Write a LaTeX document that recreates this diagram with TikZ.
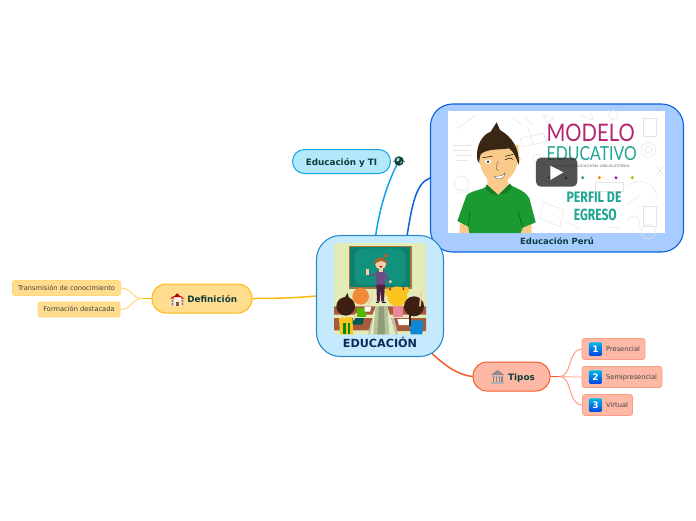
\documentclass[tikz,border=0pt]{standalone}
\usepackage{fontspec}
\setmainfont{DejaVu Sans}
\newfontfamily\latofont{Lato}
\newfontfamily\firafont{Fira Sans}
\usetikzlibrary{backgrounds,shapes.geometric}
\definecolor{inktext}{HTML}{0C3D3C}
\definecolor{navytext}{HTML}{0C2A5A}
\definecolor{cenfill}{HTML}{C5E9FD}\definecolor{cenline}{HTML}{2D8CCF}
\definecolor{perfill}{HTML}{A8CCFF}\definecolor{perline}{HTML}{0A60E0}
\definecolor{tifill}{HTML}{B3E8FB}\definecolor{tiline}{HTML}{0EA5E8}
\definecolor{deffill}{HTML}{FFDC8E}\definecolor{defline}{HTML}{FFB80E}\definecolor{defsub}{HTML}{FFD67A}
\definecolor{tipfill}{HTML}{FDB9A6}\definecolor{tipline}{HTML}{F85A2A}\definecolor{tipsub}{HTML}{FB9E85}
\definecolor{tealx}{HTML}{1FA593}\definecolor{magx}{HTML}{B5256F}
\definecolor{skinx}{HTML}{F9CA8A}\definecolor{greenx}{HTML}{1A9A30}\definecolor{doodle}{HTML}{E4E4E4}
\definecolor{wallc}{HTML}{E3EBB9}\definecolor{framec}{HTML}{A57B3D}\definecolor{boardc}{HTML}{0D7F6E}\definecolor{boardin}{HTML}{12917D}
\definecolor{deskc}{HTML}{A85B3A}\definecolor{aislec}{HTML}{B5C198}\definecolor{aislein}{HTML}{8E9C78}
\definecolor{skinl}{HTML}{F6CFA8}\definecolor{hairt}{HTML}{A5622F}\definecolor{shirtt}{HTML}{6E4C86}\definecolor{pantst}{HTML}{4D2040}
\definecolor{hairk}{HTML}{3E2012}\definecolor{hairo}{HTML}{F08B3A}\definecolor{hairy}{HTML}{FCC41F}
\tikzset{
  topic/.style={draw,line width=1pt,rounded corners=12pt,inner sep=0pt,text height=7.8pt,text depth=0pt,font=\fontsize{8.8}{10}\selectfont\bfseries,text=inktext},
  sub/.style={draw,line width=.8pt,rounded corners=2.5pt,inner sep=0pt},
  subtxt/.style={inner sep=0pt,text height=5pt,text depth=.4pt,font=\fontsize{6.65}{8}\selectfont,text=black!75},
  link/.style={line width=1.5pt,line cap=round},
  twig/.style={line width=1pt,line cap=round},
  badge/.style={rounded corners=1.5pt,minimum width=13.5pt,minimum height=13.5pt,inner sep=0pt,top color=blue!20!cyan!90!black,bottom color=blue!70!cyan!90!black,text=white,font=\fontsize{9}{10}\selectfont\bfseries},
}
\begin{document}
\begin{tikzpicture}[x=1pt,y=-1pt]
\useasboundingbox (0,0) rectangle (696,520);

% main nodes
\node[draw=perline,fill=perfill,line width=1.1pt,rounded corners=22pt,minimum width=253pt,minimum height=148pt,inner sep=0pt] (peru) at (557,178) {};
\node[draw=cenline,fill=cenfill,line width=1.1pt,rounded corners=24pt,minimum width=127pt,minimum height=121pt,inner sep=0pt] (central) at (380,296) {};
\node[topic,draw=tiline,fill=tifill,minimum width=98pt,minimum height=24pt] (ti) at (341.5,161.5) {Educación y TI};
\node[topic,draw=defline,fill=deffill,minimum width=100pt,minimum height=29pt,rounded corners=14pt] (def) at (202,298.5) {\hspace*{20.5pt}Definición};
\node[topic,draw=tipline,fill=tipfill,minimum width=77pt,minimum height=29pt,rounded corners=14pt] (tip) at (511.5,376.5) {\hspace*{20pt}Tipos};

% sub nodes
\node[sub,subtxt,draw=defsub,fill=deffill,minimum width=108pt,minimum height=15pt] (tc) at (66.5,288) {Transmisión de conocimiento};
\node[sub,subtxt,draw=defsub,fill=deffill,minimum width=82pt,minimum height=15pt] (fd) at (79,309.5) {Formación destacada};
\node[sub,draw=tipsub,fill=tipfill,minimum width=63pt,minimum height=21pt] (pr) at (613.5,349) {};
\node[sub,draw=tipsub,fill=tipfill,minimum width=80pt,minimum height=21pt] (se) at (622,377) {};
\node[sub,draw=tipsub,fill=tipfill,minimum width=50pt,minimum height=21pt] (vi) at (607.5,405) {};
\node[badge] (b1) at (595.5,349) {1};
\node[badge] (b2) at (595.5,377) {2};
\node[badge] (b3) at (595.5,405) {3};
\node[subtxt,anchor=west] (prt) at (606,349) {Presencial};
\node[subtxt,anchor=west] (set) at (606,377) {Semipresencial};
\node[subtxt,anchor=west] (vit) at (606,405) {Virtual};

% captions
\node[inner sep=0pt,font=\fontsize{8.5}{10}\selectfont\bfseries,text=inktext] (perucap) at (557,241) {Educación Perú};
\node[inner sep=0pt,font=\fontsize{11.2}{13}\selectfont\bfseries,text=navytext] (cencap) at (380,342.2) {EDUCACIÓN};

% globe
\node[circle,fill=inktext,minimum size=9.5pt,inner sep=0pt] (globe) at (399,161) {};
\fill[teal!35!white] (396.6,158.6) -- (399,157.6) -- (399.6,159.8) -- (398.2,161.6) -- (396.4,160.8) -- cycle;
\fill[teal!35!white] (400.6,161.8) -- (402,160.8) -- (401.4,163) -- (400.2,163.8) -- cycle;
\draw[inktext!60,line width=.7pt] (393,161) -- (394.4,161) (403.6,161) -- (405,161);

% connectors
\begin{scope}[on background layer]
\draw[link,color=tiline] (central.94) .. controls (380,207) and (387,185) .. (globe.240);
\draw[link,color=perline] (central.66) .. controls (412,205) and (416,183) .. (peru.west);
\draw[link,color=defline] (central.west) .. controls (295,298) and (275,298.5) .. (def.east);
\draw[link,color=tipline] (central.center) .. controls (418,340) and (445,374) .. (tip.west);
\coordinate (defhub) at (142,298.5);
\coordinate (tiphub) at (560,376.5);
\draw[twig,color=defline] (def.west) -- (defhub);
\draw[twig,color=defsub] (defhub) .. controls (132,298.5) and (132,288) .. (tc.east);
\draw[twig,color=defsub] (defhub) .. controls (132,298.5) and (132,309.5) .. (fd.east);
\draw[twig,color=tipline] (tip.east) -- (tiphub);
\draw[twig,color=tipsub] (tiphub) .. controls (572,376.5) and (568,349) .. (pr.west);
\draw[twig,color=tipsub!70] (tiphub) -- (se.west);
\draw[twig,color=tipsub] (tiphub) .. controls (572,376.5) and (568,405) .. (vi.west);
\end{scope}

% school icon
\fill[brown!40!white] (170.5,298) rectangle (184,306);
\fill[red!65!brown] (170,298.5) -- (173.5,296) -- (181,296) -- (184.5,298.5) -- cycle;
\fill[white!85!brown] (174,296.5) rectangle (180.5,306);
\fill[red!70!black] (173.6,297) -- (177.2,293.2) -- (180.9,297) -- cycle;
\foreach \qx in {171.5,181.8}{\fill[black!55] (\qx,300) rectangle +(1.4,1.6); \fill[black!55] (\qx,303) rectangle +(1.4,1.6);}
\fill[brown!70!black] (176,302) rectangle (178.5,306);
% bank icon
\fill[black!45] (490.8,375) -- (497.5,370) -- (504.2,375) -- cycle;
\fill[black!30] (491.5,375.5) rectangle (503.5,377);
\foreach \qx in {492.5,495.5,498.5,501}{\fill[black!50] (\qx,377) rectangle +(1.6,5);}
\fill[black!30] (490.8,382) rectangle (504.2,383.5);

% thumbnail
\begin{scope}[shift={(280,95)},x=0.33333pt,y=-0.33333pt]
\fill[white] (503,48) rectangle (1155,413);
\begin{scope}[color=doodle,line width=.5pt]
\draw (530,100) -- (590,60) (700,70) -- (725,90);
\draw (520,150) -- (575,150) (520,165) -- (570,165) (525,180) -- (575,180) (530,195) -- (565,195);
\draw (720,130) -- (790,115) -- (800,140) -- (730,155) -- cycle;
\draw (745,100) -- (760,150);
\draw (1090,70) rectangle (1130,125);
\draw (1105,165) circle (22);
\draw (1105,165) circle (11);
\draw (545,265) circle (22);
\draw (530,290) .. controls (545,300) and (560,295) .. (570,280);
\draw (790,320) -- (850,345) -- (840,395) -- (780,370) -- cycle;
\draw (1090,335) rectangle (1130,395);
\draw (1045,270) .. controls (1080,250) and (1120,260) .. (1130,300);
\draw (945,262) rectangle (1030,288);
\draw (1105,410) circle (22);
\draw (1040,330) -- (1080,300) (735,70) -- (760,90);
\draw (900,60) -- (940,75) -- (930,50) (1000,60) circle (14);
\draw (770,190) circle (12);
\draw (1040,380) .. controls (1060,350) and (1080,360) .. (1080,400);
\draw (790,60) -- (820,70) -- (800,85) -- cycle;
\draw (1130,215) -- (1150,240) (1150,215) -- (1130,240);
\draw (780,260) -- (800,250) (855,380) -- (900,400) (980,395) -- (1020,400);
\end{scope}
\end{scope}

% boy
\begin{scope}[shift={(450,115)},x=0.33333pt,y=-0.33333pt]
\fill[skinx] (30,325) -- (56,330) -- (58,354) -- (28,354) -- cycle;
\fill[skinx] (215,330) -- (245,325) -- (245,354) -- (212,354) -- cycle;
\fill[greenx] (50,240) .. controls (70,225) and (95,225) .. (110,215) -- (145,240) -- (180,210) .. controls (205,222) and (228,230) .. (238,250) -- (257,322) -- (218,338) -- (212,354) -- (58,354) -- (55,335) -- (22,318) -- cycle;
\draw[green!30!black,line width=.35pt] (60,290) -- (55,335) (205,290) -- (218,338);
\fill[skinx] (112,190) -- (172,190) -- (175,212) -- (145,240) -- (112,215) -- cycle;
\fill[greenx!80!black] (110,208) -- (145,240) -- (122,236) -- (106,220) -- cycle;
\fill[greenx!80!black] (180,205) -- (145,240) -- (168,234) -- (187,218) -- cycle;
\fill[skinx] (203,133) circle (9);
\fill[skinx] (88,90) -- (88,125) .. controls (88,170) and (115,208) .. (142,205) .. controls (175,205) and (205,170) .. (206,115) -- (206,90) -- cycle;
\fill[black!70!brown] (82,135) .. controls (76,95) and (95,60) .. (122,50) -- (140,22) -- (150,45) .. controls (185,65) and (210,100) .. (206,150) .. controls (198,125) and (190,110) .. (178,100) .. controls (150,105) and (110,100) .. (92,118) .. controls (90,125) and (88,130) .. (88,145) -- cycle;
\fill[white] (114,140) ellipse (10 and 6);
\fill[black] (114,140) circle (3.5);
\draw[black,line width=.5pt] (98,128) -- (127,124) (165,135) .. controls (172,128) and (180,128) .. (190,133) (165,124) -- (190,118);
\draw[black!70,line width=.35pt] (143,140) .. controls (138,158) and (137,165) .. (146,167);
\fill[white,draw=black!70,line width=.3pt] (132,183) .. controls (145,186) and (158,182) .. (166,174) .. controls (165,192) and (140,200) .. (132,183) -- cycle;
\end{scope}

% thumbnail text
\begin{scope}[shift={(280,95)},x=0.33333pt,y=-0.33333pt]
\node[inner sep=0pt,text=magx] (mod) at (932,113) {\resizebox{88pt}{17.5pt}{\latofont MODELO}};
\node[inner sep=0pt,text=tealx] (edu) at (935,175) {\resizebox{90pt}{14pt}{\latofont EDUCATIVO}};
\node[inner sep=0pt,text=black!60] (par) at (932,213) {\resizebox{78pt}{3.2pt}{\latofont PARA LA EDUCACIÓN OBLIGATORIA}};
\foreach \qx/\qc in {808/magx,858/blue!50!black,908/tealx,958/orange,1008/magx!80!blue,1057/lime!80!black}{\fill[\qc] (\qx,248) circle (5);}
\node[inner sep=0pt,text=tealx] (pdf) at (942,306) {\resizebox{55pt}{10.5pt}{\firafont\bfseries PERFIL DE}};
\node[inner sep=0pt,text=tealx] (egr) at (946,360) {\resizebox{43pt}{11.5pt}{\firafont\bfseries EGRESO}};
\node[fill=black!80,fill opacity=.85,rounded corners=5pt,minimum width=41.5pt,minimum height=29pt,inner sep=0pt] (play) at (830,231.5) {};
\fill[white] (811,212) -- (850,232) -- (811,255) -- cycle;
\end{scope}

% classroom
\begin{scope}[shift={(334,243)},x=0.33333pt,y=-0.33333pt]
\fill[wallc,rounded corners=3pt] (0,0) rectangle (276,274);
\fill[framec] (44,8) rectangle (234,138);
\fill[boardc] (49,13) rectangle (229,133);
\fill[boardin,rounded corners=8pt] (62,16) rectangle (215,126);
% floor and aisle
\fill[aislec] (125,190) -- (160,190) -- (166,274) -- (118,274) -- cycle;
\fill[aislein] (135,190) -- (150,190) -- (153,274) -- (130,274) -- cycle;
% teacher
\fill[pantst] (127,122) -- (153,122) -- (150,176) -- (142,176) -- (140,140) -- (137,176) -- (129,176) -- cycle;
\fill[black!50!pantst] (125,176) rectangle (136,181);
\fill[black!50!pantst] (143,176) rectangle (155,181);
\draw[shirtt,line width=1.6pt] (128,93) -- (106,98) (153,93) -- (168,115);
\fill[skinl] (97,78) rectangle (104,97);
\fill[skinl] (169,116) circle (5);
\fill[shirtt] (126,85) -- (155,85) -- (154,125) -- (125,125) -- cycle;
\fill[skinl] (140,62) circle (17);
\fill[skinl] (134,76) rectangle (146,88);
\fill[hairt] (121,66) .. controls (116,40) and (158,32) .. (160,66) .. controls (152,50) and (132,50) .. (121,66) -- cycle;
\fill[hairt] (155,38) circle (6);
\fill[red!70!black] (135,69) -- (146,69) -- (140.5,74) -- cycle;
% left desks and children
\fill[deskc] (0,190) -- (125,190) -- (115,215) -- (0,215) -- cycle;
\fill[green!60!black!70!yellow] (68,195) rectangle (95,222);
\fill[hairo] (80,160) circle (25);
\draw[skinl,line width=1.6pt] (100,190) -- (116,150);
\fill[white] (92,191) -- (112,191) -- (108,206) -- (92,206) -- cycle;
\fill[deskc] (0,225) -- (115,225) -- (105,262) -- (0,262) -- cycle;
\fill[teal!70!black] (50,225) -- (90,225) -- (85,245) -- (50,245) -- cycle;
\fill[black!25] (105,262) -- (115,225) -- (118,225) -- (108,274) -- (102,274) -- cycle;
\fill[hairy] (15,225) -- (55,222) -- (58,274) -- (18,274) -- cycle;
\fill[green!55!black] (28,240) rectangle (35,274);
\fill[green!55!black] (42,240) rectangle (49,274);
\fill[hairk] (35,190) circle (28);
\fill[hairk] (32,165) -- (40,150) -- (46,168) -- cycle;
\draw[skinl,line width=1.6pt] (58,232) -- (68,210);
% right desks and children
\fill[deskc] (160,190) -- (276,190) -- (276,215) -- (168,215) -- cycle;
\fill[pink!70!purple] (178,190) rectangle (208,222);
\fill[hairy] (190,160) circle (30);
\fill[hairy] (160,148) ellipse (7 and 12);
\fill[hairy] (217,142) ellipse (8 and 11);
\fill[red!70!black] (168,140) circle (3);
\fill[red!70!black] (208,138) circle (3);
\fill[deskc] (172,225) -- (276,225) -- (276,264) -- (182,264) -- cycle;
\fill[white] (190,228) -- (230,228) -- (235,246) -- (195,246) -- cycle;
\fill[black!25] (172,225) -- (180,225) -- (192,274) -- (184,274) -- cycle;
\fill[cyan!70!blue] (225,232) -- (268,232) -- (265,274) -- (230,274) -- cycle;
\fill[hairk] (240,190) circle (30);
\fill[hairk] (225,210) rectangle (232,250);
\draw[skinl,line width=1.6pt] (258,190) -- (262,145);
\end{scope}
\end{tikzpicture}
\end{document}
